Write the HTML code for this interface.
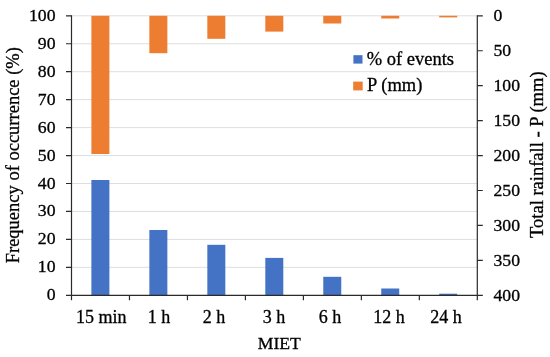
<!DOCTYPE html>
<html><head><meta charset="utf-8"><title>MIET chart</title>
<style>
html,body{margin:0;padding:0;background:#fff;}
svg{display:block;font-family:"Liberation Serif","Times New Roman",serif;font-size:18.5px;fill:#000;}
text{stroke:#000;stroke-width:0.3px;}
.t{font-size:17.7px;}
.c{font-size:18px;}
.g{stroke:#dedede;stroke-width:1;}
.a{stroke:#2a2a2a;stroke-width:1.2;fill:none;}
</style></head><body>
<svg width="550" height="357" viewBox="0 0 550 357">
<rect width="550" height="357" fill="#fff"/>
<line class="g" x1="71.5" x2="477.3" y1="15.80" y2="15.80"/>
<line class="g" x1="71.5" x2="477.3" y1="43.75" y2="43.75"/>
<line class="g" x1="71.5" x2="477.3" y1="71.70" y2="71.70"/>
<line class="g" x1="71.5" x2="477.3" y1="99.65" y2="99.65"/>
<line class="g" x1="71.5" x2="477.3" y1="127.60" y2="127.60"/>
<line class="g" x1="71.5" x2="477.3" y1="155.55" y2="155.55"/>
<line class="g" x1="71.5" x2="477.3" y1="183.50" y2="183.50"/>
<line class="g" x1="71.5" x2="477.3" y1="211.45" y2="211.45"/>
<line class="g" x1="71.5" x2="477.3" y1="239.40" y2="239.40"/>
<line class="g" x1="71.5" x2="477.3" y1="267.35" y2="267.35"/>
<rect x="91.39" y="15.8" width="18.0" height="138.20" fill="#ED7D31"/>
<rect x="91.39" y="180.00" width="18.0" height="115.30" fill="#4472C4"/>
<rect x="149.36" y="15.8" width="18.0" height="37.40" fill="#ED7D31"/>
<rect x="149.36" y="230.00" width="18.0" height="65.30" fill="#4472C4"/>
<rect x="207.33" y="15.8" width="18.0" height="23.00" fill="#ED7D31"/>
<rect x="207.33" y="244.80" width="18.0" height="50.50" fill="#4472C4"/>
<rect x="265.30" y="15.8" width="18.0" height="15.80" fill="#ED7D31"/>
<rect x="265.30" y="257.90" width="18.0" height="37.40" fill="#4472C4"/>
<rect x="323.27" y="15.8" width="18.0" height="7.70" fill="#ED7D31"/>
<rect x="323.27" y="276.80" width="18.0" height="18.50" fill="#4472C4"/>
<rect x="381.24" y="15.8" width="18.0" height="2.70" fill="#ED7D31"/>
<rect x="381.24" y="288.50" width="18.0" height="6.80" fill="#4472C4"/>
<rect x="439.21" y="15.8" width="18.0" height="1.60" fill="#ED7D31"/>
<rect x="439.21" y="293.70" width="18.0" height="1.60" fill="#4472C4"/>
<path class="a" d="M71.5 15.3V300.3M477.3 15.3V300.3M66.0 295.3H482.8"/>
<path class="a" d="M66.0 15.80H71.5M66.0 43.75H71.5M66.0 71.70H71.5M66.0 99.65H71.5M66.0 127.60H71.5M66.0 155.55H71.5M66.0 183.50H71.5M66.0 211.45H71.5M66.0 239.40H71.5M66.0 267.35H71.5M477.3 15.80H482.8M477.3 50.74H482.8M477.3 85.67H482.8M477.3 120.61H482.8M477.3 155.55H482.8M477.3 190.49H482.8M477.3 225.43H482.8M477.3 260.36H482.8M129.47 295.3V300.3M187.44 295.3V300.3M245.41 295.3V300.3M303.39 295.3V300.3M361.36 295.3V300.3M419.33 295.3V300.3"/>
<text class="t" x="55.5" y="20.80" text-anchor="end">100</text>
<text class="t" x="55.5" y="48.75" text-anchor="end">90</text>
<text class="t" x="55.5" y="76.70" text-anchor="end">80</text>
<text class="t" x="55.5" y="104.65" text-anchor="end">70</text>
<text class="t" x="55.5" y="132.60" text-anchor="end">60</text>
<text class="t" x="55.5" y="160.55" text-anchor="end">50</text>
<text class="t" x="55.5" y="188.50" text-anchor="end">40</text>
<text class="t" x="55.5" y="216.45" text-anchor="end">30</text>
<text class="t" x="55.5" y="244.40" text-anchor="end">20</text>
<text class="t" x="55.5" y="272.35" text-anchor="end">10</text>
<text class="t" x="55.5" y="300.30" text-anchor="end">0</text>
<text class="t" x="493.5" y="21.30">0</text>
<text class="t" x="493.5" y="56.24">50</text>
<text class="t" x="493.5" y="91.17">100</text>
<text class="t" x="493.5" y="126.11">150</text>
<text class="t" x="493.5" y="161.05">200</text>
<text class="t" x="493.5" y="195.99">250</text>
<text class="t" x="493.5" y="230.93">300</text>
<text class="t" x="493.5" y="265.86">350</text>
<text class="t" x="493.5" y="300.80">400</text>
<text class="c" x="101.20" y="323.4" text-anchor="middle">15 min</text>
<text class="c" x="159.10" y="323.4" text-anchor="middle">1 h</text>
<text class="c" x="214.00" y="323.4" text-anchor="middle">2 h</text>
<text class="c" x="274.10" y="323.4" text-anchor="middle">3 h</text>
<text class="c" x="329.90" y="323.4" text-anchor="middle">6 h</text>
<text class="c" x="389.10" y="323.4" text-anchor="middle">12 h</text>
<text class="c" x="445.90" y="323.4" text-anchor="middle">24 h</text>
<text x="279.3" y="349.2" text-anchor="middle" class="t">MIET</text>
<text transform="translate(19.3,155.2) rotate(-90)" text-anchor="middle">Frequency of occurrence (%)</text>
<text transform="translate(542.8,154.7) rotate(-90)" text-anchor="middle">Total rainfall - P (mm)</text>
<rect x="353.4" y="55.2" width="9.1" height="8.4" fill="#4472C4"/>
<text x="366.7" y="65.3">% of events</text>
<rect x="353.2" y="81.6" width="9.5" height="8.8" fill="#ED7D31"/>
<text x="367.1" y="91.4">P (mm)</text>
</svg></body></html>
